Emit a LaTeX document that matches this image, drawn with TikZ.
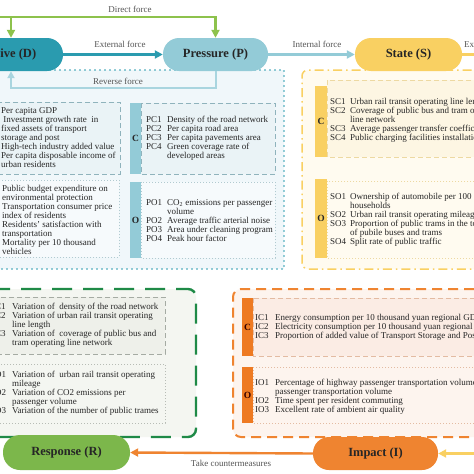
\documentclass[tikz,border=0pt]{standalone}
\usepackage{fontspec}
\setmainfont{Liberation Serif}
\usetikzlibrary{arrows.meta}
\definecolor{dteal}{HTML}{2A9BAF}
\definecolor{lteal}{HTML}{93CBD7}
\definecolor{rteal}{HTML}{A9D5DF}
\definecolor{tealbg}{HTML}{F0F7FA}
\definecolor{tealC}{HTML}{EAF3F6}
\definecolor{tealline}{HTML}{8FB3BC}
\definecolor{yel}{HTML}{F9D062}
\definecolor{yelbg}{HTML}{FFFBF0}
\definecolor{yelline}{HTML}{EDD9A2}
\definecolor{yelC}{HTML}{FDF6E3}
\definecolor{grn}{HTML}{7CB74B}
\definecolor{lgrn}{HTML}{8DC24C}
\definecolor{dgrn}{HTML}{1F8A47}
\definecolor{grnbg}{HTML}{F4F6F1}
\definecolor{grnC}{HTML}{EEF0EA}
\definecolor{greyline}{HTML}{A5ABA3}
\definecolor{org}{HTML}{EF8430}
\definecolor{orgbar}{HTML}{EE7A22}
\definecolor{orgbg}{HTML}{FDF4EE}
\definecolor{orgC}{HTML}{FBECE4}
\definecolor{orgline}{HTML}{E3BBA2}
\definecolor{txtc}{HTML}{262626}
\definecolor{lblc}{HTML}{555555}
\tikzset{
  txt/.style={font=\fontsize{9}{9}\selectfont, text=txtc, inner sep=0pt, anchor=base west},
  lbl/.style={font=\fontsize{9}{9}\selectfont, text=lblc, inner sep=0pt},
  pill/.style={rounded corners=16pt, minimum height=33pt, inner sep=0pt,
    font=\fontsize{12.5}{12.5}\selectfont\bfseries, text=txtc},
  barlbl/.style={font=\fontsize{9.5}{9.5}\selectfont\bfseries, text=txtc, inner sep=0pt},
  arr/.style={line width=2.4pt, -{Triangle[length=8pt,width=8pt]}},
  cdash/.style={dash pattern=on 5pt off 3pt, line width=0.8pt},
  odot/.style={dash pattern=on 1pt off 2pt, line width=0.7pt},
}
\newcommand\myentries[5]{%
  \foreach \l/\t [count=\i from 0] in {#5} {
    \node[txt] (#1l\i) at (#2,#4+9*\i) {\l};
    \node[txt] (#1t\i) at (#3,#4+9*\i) {\t};
  }}
\begin{document}
\begin{tikzpicture}[x=1pt,y=-1pt]
\useasboundingbox (0,0) rectangle (474,474);
\clip (0,0) rectangle (474,474);
\fill[white] (0,0) rectangle (474,474);

% ---------- region backgrounds ----------
\fill[tealbg] (-10,70) rectangle (284,269);
\draw[dteal, line width=1.8pt, line cap=round, dash pattern=on 0pt off 5pt]
  (-10,70) -- (284,70) -- (284,269) -- (-10,269);
\draw[yel, fill=yelbg, line width=1.5pt, rounded corners=6pt,
  dash pattern=on 9pt off 4pt on 1.5pt off 4pt]
  (490,70) -- (302,70) -- (302,269) -- (490,269);
\draw[dgrn, fill=grnbg, line width=2.4pt, rounded corners=8pt,
  dash pattern=on 20pt off 11pt]
  (-10,289) -- (196,289) -- (196,437) -- (-10,437);
\draw[org, fill=orgbg, line width=2pt, rounded corners=8pt,
  dash pattern=on 10pt off 6pt]
  (490,289) -- (233,289) -- (233,437) -- (490,437);

% ---------- Drive indicator boxes ----------
\draw[tealline, fill=tealC, cdash] (-10,102) rectangle (120,174);
\draw[tealline!70, fill=tealbg!60!white, odot] (-10,180) rectangle (119,257);
\myentries{dc}{-20}{1}{113}{/Per capita GDP, /\ Investment growth rate\ \ in, /fixed assets of transport, /storage and post, /High-tech industry added value, /Per capita disposable income of, /urban residents}
\myentries{do}{-20}{2}{191}{/Public budget expenditure on, /environmental protection, /Transportation consumer price, /index of residents, /Residents' satisfaction with, /transportation, /Mortality per 10 thousand, /vehicles}

% ---------- Pressure indicator boxes ----------
\fill[lteal] (130,103) rectangle (141,174);
\node[barlbl] (pcbar) at (135.5,138.5) {C};
\draw[tealline, fill=tealC, cdash] (141,103) rectangle (275,174);
\fill[lteal] (130,182) rectangle (141,258);
\node[barlbl] (pobar) at (135.5,220) {O};
\draw[tealline!70, fill=tealbg!60!white, odot] (141,182) rectangle (275,258);
\myentries{pc}{146}{167}{122}{PC1/Density of the road network, PC2/Per capita road area, PC3/Per capita pavements area, PC4/Green coverage rate of, /developed areas}
\myentries{po}{146}{167}{205}{PO1/CO\textsubscript{2} emissions per passenger, /volume, PO2/Average traffic arterial noise, PO3/Area under cleaning program, PO4/Peak hour factor}

% ---------- State indicator boxes ----------
\draw[yelline, fill=yelC, cdash] (327,80) rectangle (490,157);
\fill[yel] (315,86) rectangle (327,157);
\node[barlbl] (scbar) at (321,121.5) {C};
\draw[yelline, fill=yelbg, odot] (327,181) rectangle (490,258);
\fill[yel] (315,179) rectangle (327,258);
\node[barlbl] (sobar) at (321,218.5) {O};
\myentries{sc}{330}{350}{104}{SC1/Urban rail transit operating line length, SC2/Coverage of public bus and tram operating, /line network, SC3/Average passenger transfer coefficient, SC4/Public charging facilities installation}
\myentries{so}{330}{350}{199}{SO1/Ownership of automobile per 100, /households, SO2/Urban rail transit operating mileage, SO3/Proportion of public trams in the total, /of pubile buses and trams, SO4/Split rate of public traffic}

% ---------- Response indicator boxes ----------
\draw[greyline, fill=grnC, cdash] (-10,297) rectangle (165,354);
\draw[greyline!80, fill=grnbg, odot] (-10,364) rectangle (165,423);
\myentries{rc}{-11}{12}{309}{RC1/Variation of\ \ density of the road network, RC2/Variation of urban rail transit operating, /line length, RC3/Variation of\ \ coverage of public bus and, /tram operating line network}
\myentries{ro}{-11}{12}{377}{RO1/Variation of\ \ urban rail transit operating, /mileage, RO2/Variation of CO2 emissions per, /passenger volume, RO3/Variation of the number of public trames}

% ---------- Impact indicator boxes ----------
\draw[orgline, fill=orgC, cdash] (253,298) rectangle (490,356);
\fill[orgbar] (242,298) rectangle (253,356);
\node[barlbl, text=black!80!red] (icbar) at (247.5,327) {C};
\draw[orgline, fill=orgbg, odot] (253,367) rectangle (490,423);
\fill[orgbar] (242,367) rectangle (253,423);
\node[barlbl, text=black!80!red] (iobar) at (247.5,395) {O};
\myentries{ic}{255}{275}{320}{IC1/Energy consumption per 10 thousand yuan regional GDP, IC2/Electricity consumption per 10 thousand yuan regional GDP, IC3/Proportion of added value of Transport Storage and Post}
\myentries{io}{255}{275}{385}{IO1/Percentage of highway passenger transportation volume, /passenger transportation volume, IO2/Time spent per resident commuting, IO3/Excellent rate of ambient air quality}

% ---------- main nodes ----------
\node[pill, fill=dteal, minimum width=104pt] (D) at (11,54.5) {Drive (D)};
\node[pill, fill=lteal, minimum width=105pt] (P) at (215.5,54.5) {Pressure (P)};
\node[pill, fill=yel, minimum width=107pt] (S) at (408.5,54.5) {State (S)};
\node[pill, fill=grn, minimum width=127pt, minimum height=35pt, rounded corners=17pt] (R) at (66.5,452.5) {Response (R)};
\node[pill, fill=org, minimum width=125pt] (I) at (375.5,453.5) {Impact (I)};

% ---------- connectors ----------
\coordinate (dfl) at (-10,17);
\coordinate (dfb) at (11,17);
\coordinate (sout) at (490,54.5);
\coordinate (iin) at (490,453.5);
\draw[arr, lgrn] (dfl) -| (P.north);
\draw[arr, lgrn] (dfb) -- (D.north);
\draw[arr, dteal] (D.east) -- (P.west);
\draw[arr, lteal] (P.east) -- (S.west);
\draw[line width=2.4pt, yel] (S.east) -- (sout);
\draw[rteal, line width=2pt, -{Triangle[length=7pt,width=7pt]}] (P.south) -- ++(0,17) -| (D.south);
\draw[arr, org] (I.west) -- (R.east);
\draw[arr, yel] (iin) -- (I.east);

% ---------- connector labels ----------
\node[lbl] (ldf) at (130,9) {Direct force};
\node[lbl] (lef) at (120,44) {External force};
\node[lbl] (lif) at (317,44) {Internal force};
\node[lbl, anchor=west] (lef2) at (464,44) {External force};
\node[lbl] (lrf) at (118,81) {Reverse force};
\node[lbl] (ltc) at (231,463) {Take countermeasures};
\end{tikzpicture}
\end{document}
